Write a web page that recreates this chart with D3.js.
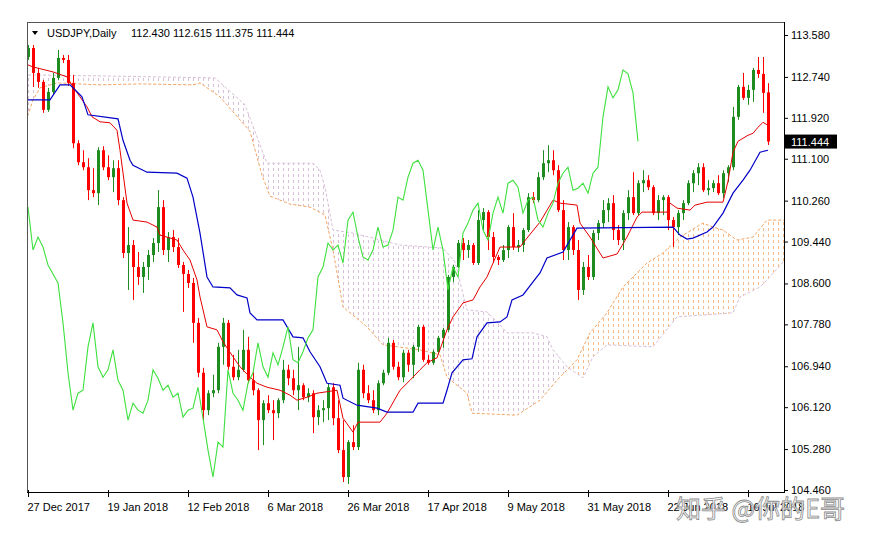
<!DOCTYPE html>
<html>
<head>
<meta charset="utf-8">
<script src="https://cdn.jsdelivr.net/npm/d3@7"></script>
<style>
	body { margin: 0; background: #fff; }
	text { font-family: Tahoma, "Liberation Sans", Arial, sans-serif; }
</style>
</head>
<body>
<div id="chart"></div>
<script>
// ---- data ----
let symbolTitle = 'USDJPY,Daily';
let lastOHLC = [112.430, 112.615, 111.375, 111.444];

let xTickIdx = [0, 16, 32, 48, 64, 80, 96, 112, 128, 144];
let xTickLabels = ['27 Dec 2017', '19 Jan 2018', '12 Feb 2018', '6 Mar 2018', '26 Mar 2018',
	'17 Apr 2018', '9 May 2018', '31 May 2018', '22 Jun 2018', '16 Jul 2018'];
let yTicks = [113.580, 112.740, 111.920, 111.100, 110.260, 109.440, 108.600, 107.780, 106.940, 106.120, 105.280, 104.460];

// daily candles, one entry per bar
let open = [113.14, 113.32, 112.82, 112.64, 112.08, 112.44, 112.72, 113.12, 113.08, 112.62,
	111.41, 111.03, 110.93, 110.47, 110.41, 111.27, 110.93, 110.73, 110.91, 110.27,
	109.21, 109.37, 108.93, 108.73, 108.93, 109.17, 109.41, 110.13, 109.27, 109.53,
	109.33, 108.97, 108.79, 108.61, 107.81, 106.81, 106.06, 106.40, 106.46, 107.33,
	107.81, 106.93, 106.72, 106.87, 107.27, 106.66, 106.46, 105.86, 106.20, 106.06,
	106.00, 106.26, 106.87, 106.70, 106.46, 106.56, 106.32, 106.40, 105.92, 106.06,
	106.10, 106.52, 105.90, 105.26, 104.72, 105.42, 105.32, 106.87, 106.40, 106.26,
	106.06, 106.60, 106.81, 107.41, 106.93, 106.72, 107.21, 106.97, 107.33, 107.73,
	107.07, 107.01, 107.23, 107.51, 107.67, 108.73, 108.93, 109.41, 109.27, 109.37,
	109.01, 109.87, 110.03, 109.53, 109.13, 109.07, 109.27, 109.73, 109.33, 109.37,
	109.67, 110.33, 110.27, 110.73, 111.01, 111.07, 110.87, 110.07, 109.27, 109.73,
	109.27, 108.47, 108.93, 108.73, 109.61, 109.81, 110.07, 110.21, 109.67, 109.47,
	110.01, 110.33, 110.01, 110.61, 110.67, 110.53, 110.01, 110.27, 110.33, 109.87,
	109.73, 110.01, 110.21, 110.61, 110.81, 110.93, 110.47, 110.51, 110.61, 110.41,
	110.81, 110.93, 111.94, 112.54, 112.32, 112.48, 112.88, 112.80, 112.430];
let high = [113.38, 113.38, 112.92, 112.68, 112.52, 112.82, 113.28, 113.18, 113.18, 112.78,
	111.47, 111.27, 111.11, 110.91, 111.33, 111.35, 111.17, 111.07, 111.07, 110.33,
	109.73, 109.47, 109.23, 109.03, 109.27, 109.51, 110.47, 110.27, 109.63, 109.67,
	109.51, 109.03, 108.87, 108.71, 107.91, 106.91, 106.46, 106.77, 107.41, 107.91,
	107.87, 107.17, 107.27, 107.67, 107.53, 106.83, 106.50, 106.26, 106.36, 106.26,
	106.30, 107.07, 106.97, 106.87, 107.33, 106.60, 106.50, 106.46, 106.16, 106.26,
	106.60, 106.60, 106.26, 105.86, 105.46, 105.76, 107.01, 106.97, 106.56, 106.46,
	106.66, 106.87, 107.51, 107.47, 107.03, 107.27, 107.27, 107.37, 107.77, 107.77,
	107.17, 107.27, 107.55, 107.71, 108.77, 108.97, 109.47, 109.51, 109.47, 109.41,
	110.07, 110.11, 110.07, 109.63, 109.17, 109.37, 109.77, 110.01, 109.47, 109.71,
	110.41, 110.43, 110.83, 111.27, 111.37, 111.27, 110.97, 110.27, 109.83, 109.77,
	109.47, 109.03, 109.17, 109.67, 109.87, 110.27, 110.31, 110.37, 109.77, 110.07,
	110.47, 110.83, 110.67, 110.87, 110.77, 110.57, 110.37, 110.37, 110.37, 109.93,
	110.07, 110.27, 110.67, 110.87, 111.01, 111.01, 110.67, 110.67, 110.77, 110.87,
	110.97, 112.14, 112.58, 112.82, 112.58, 112.92, 113.14, 113.14, 112.615];
let low = [113.08, 112.54, 112.52, 112.02, 112.04, 112.38, 112.68, 113.02, 112.56, 111.31,
	110.97, 110.87, 110.27, 110.33, 110.17, 110.87, 110.67, 110.43, 110.17, 109.11,
	108.47, 108.27, 108.57, 108.41, 108.67, 109.03, 109.23, 109.17, 109.03, 109.23,
	108.91, 108.03, 108.51, 107.41, 106.72, 105.86, 105.96, 106.32, 106.40, 106.97,
	106.87, 106.66, 106.66, 106.83, 106.60, 106.36, 105.26, 105.36, 106.00, 105.46,
	105.90, 106.20, 106.56, 106.36, 106.06, 106.26, 106.22, 105.60, 105.76, 105.82,
	105.86, 105.76, 105.20, 104.62, 104.58, 105.26, 105.26, 106.30, 106.20, 106.00,
	105.96, 106.56, 106.76, 106.87, 106.66, 106.62, 106.83, 106.70, 107.23, 107.03,
	106.97, 106.97, 107.21, 107.31, 107.63, 108.63, 108.91, 109.07, 109.11, 108.97,
	108.97, 109.67, 109.27, 109.01, 108.97, 109.03, 109.11, 109.27, 109.23, 109.23,
	109.63, 110.21, 110.23, 110.67, 110.83, 110.77, 110.03, 109.07, 109.07, 109.17,
	108.27, 108.37, 108.67, 108.67, 109.47, 109.71, 109.83, 109.47, 109.37, 109.27,
	109.87, 109.97, 109.97, 110.43, 110.47, 109.97, 109.87, 109.97, 109.67, 109.33,
	109.57, 109.87, 110.17, 110.43, 110.57, 110.43, 110.37, 110.43, 110.37, 110.31,
	110.63, 110.87, 111.88, 112.28, 112.18, 112.24, 112.72, 112.02, 111.375];
let close = [113.32, 112.82, 112.64, 112.08, 112.44, 112.72, 113.12, 113.08, 112.62, 111.41,
	111.03, 110.93, 110.47, 110.41, 111.27, 110.93, 110.73, 110.91, 110.27, 109.21,
	109.37, 108.93, 108.73, 108.93, 109.17, 109.41, 110.13, 109.27, 109.53, 109.33,
	108.97, 108.79, 108.61, 107.81, 106.81, 106.06, 106.40, 106.46, 107.33, 107.81,
	106.93, 106.72, 106.87, 107.27, 106.66, 106.46, 105.86, 106.20, 106.06, 106.00,
	106.26, 106.87, 106.70, 106.46, 106.56, 106.32, 106.40, 105.92, 106.06, 106.10,
	106.52, 105.90, 105.26, 104.72, 105.42, 105.32, 106.87, 106.40, 106.26, 106.06,
	106.60, 106.81, 107.41, 106.93, 106.72, 107.21, 106.97, 107.33, 107.73, 107.07,
	107.01, 107.23, 107.51, 107.67, 108.73, 108.93, 109.41, 109.27, 109.37, 109.01,
	109.87, 110.03, 109.53, 109.13, 109.07, 109.27, 109.73, 109.33, 109.37, 109.67,
	110.33, 110.27, 110.73, 111.01, 111.07, 110.87, 110.07, 109.27, 109.73, 109.27,
	108.47, 108.93, 108.73, 109.61, 109.81, 110.07, 110.21, 109.67, 109.47, 110.01,
	110.33, 110.01, 110.61, 110.67, 110.53, 110.01, 110.27, 110.33, 109.87, 109.73,
	110.01, 110.21, 110.61, 110.81, 110.93, 110.47, 110.51, 110.61, 110.41, 110.81,
	110.93, 111.94, 112.54, 112.32, 112.48, 112.88, 112.80, 112.42, 111.444];

// Ichimoku lines as [bar, price] break points
let tenkan = [[0, 112.98], [1, 112.94], [5, 112.84], [7.8, 112.74], [9, 112.54], [10.4, 112.34],
	[11.8, 112.14], [12.8, 111.94], [14.4, 111.84], [16.4, 111.82], [17.8, 111.67], [18.4, 111.27],
	[19.8, 110.21], [21, 109.87], [23.8, 109.83], [25.8, 109.73], [26.4, 109.57], [29.8, 109.47],
	[31, 109.27], [32.4, 109.07], [33.8, 108.67], [34.4, 108.33], [35.8, 107.73], [37.8, 107.67],
	[39, 107.43], [41, 107.13], [42.4, 106.93], [44.4, 106.72], [45.8, 106.60], [47.8, 106.52],
	[50.4, 106.46], [52.4, 106.36], [53.8, 106.26], [55.8, 106.32], [57.8, 106.40], [61.8, 106.46],
	[63, 105.90], [65, 105.62], [66, 105.82], [70.4, 105.82], [71.8, 106.00], [74.4, 106.46],
	[76.4, 106.66], [78.4, 106.87], [79.8, 107.01], [81.8, 107.11], [83.8, 107.67], [85, 107.93],
	[87, 108.21], [89, 108.27], [90.4, 108.53], [91.8, 108.73], [94.4, 109.33], [98.4, 109.33],
	[99.8, 109.51], [102.4, 109.83], [105, 110.27], [106.4, 110.21], [109.8, 110.17], [110.4, 109.81],
	[112.4, 109.53], [115, 109.11], [117.8, 109.19], [119.8, 109.53], [121.8, 109.93], [122.8, 110.03],
	[127.8, 110.03], [128.4, 110.21], [129.8, 110.11], [132.4, 110.07], [133.4, 110.17], [135.8, 110.23],
	[139, 110.23], [140, 110.65], [141, 111.23], [142, 111.45], [144, 111.57], [145, 111.61],
	[146, 111.73], [147, 111.83], [148, 111.77]];
let kijun = [[0, 112.28], [4.4, 112.28], [6, 112.52], [6.4, 112.58], [8.4, 112.58], [10.8, 112.34],
	[12, 111.98], [18, 111.90], [19, 111.47], [20.4, 111.07], [21, 110.97], [23.8, 110.83],
	[29.8, 110.81], [31.8, 110.71], [33, 110.33], [34.4, 109.61], [35.8, 108.73], [37, 108.53],
	[40.4, 108.51], [41.8, 108.37], [43.8, 108.31], [44.4, 108.01], [45.8, 107.87], [51, 107.87],
	[53, 107.53], [55, 107.51], [56.4, 107.23], [58.4, 106.93], [59.8, 106.60], [62.4, 106.56],
	[63, 106.30], [65.8, 106.16], [69.8, 106.10], [71.8, 106.02], [77, 106.02], [78, 106.20],
	[83, 106.20], [83.8, 106.46], [84.8, 106.81], [87, 107.07], [88.8, 107.09], [89.8, 107.53],
	[91.8, 107.81], [94.4, 107.83], [95.8, 107.93], [96.8, 108.27], [99, 108.37], [101, 108.63],
	[102.4, 108.81], [103.8, 109.11], [107, 109.23], [109.8, 109.71], [129, 109.73], [130.4, 109.57],
	[131.8, 109.49], [133, 109.51], [135.8, 109.63], [137, 109.73], [139, 110.01], [141, 110.41],
	[143, 110.67], [144.4, 110.87], [146.4, 111.23], [148, 111.27]];
let spanA = [[-1, 111.67], [1, 112.28], [2.4, 112.52], [5.8, 112.62], [14.4, 112.58], [22.4, 112.60],
	[33, 112.58], [34.4, 112.62], [38.4, 112.34], [44.4, 111.65], [46.8, 110.77], [48.4, 110.35],
	[52.4, 110.19], [56.4, 110.13], [59.4, 109.97], [61, 109.27], [63, 108.13], [67.8, 107.73],
	[71, 107.37], [78.4, 107.27], [82.4, 107.17], [83.8, 106.72], [87.8, 106.40], [88.8, 106.00],
	[97.8, 105.96], [102.4, 106.26], [105.8, 106.66], [109.8, 107.07], [112.4, 107.61], [115.8, 108.01],
	[119, 108.53], [123.8, 109.01], [127, 109.21], [130.4, 109.53], [135, 109.81], [137, 109.73],
	[139, 109.67], [141.8, 109.47], [145, 109.53], [147.8, 109.87], [151.4, 109.87]];
let spanB = [[-1, 112.78], [14.4, 112.76], [37.4, 112.72], [43.4, 112.18], [46.8, 111.27], [47.8, 111.01],
	[57, 111.01], [58.4, 110.87], [59.4, 110.53], [61, 109.67], [65, 109.61], [74.4, 109.37],
	[83, 109.31], [85.4, 109.03], [87.8, 108.07], [91.8, 108.03], [94.4, 107.77], [95.8, 107.61],
	[101, 107.61], [103.8, 107.53], [105, 107.27], [107.8, 106.93], [111, 106.71], [113, 107.13],
	[115.8, 107.37], [125, 107.33], [129.8, 107.93], [141, 108.01], [142.4, 108.33], [146.4, 108.53],
	[147.8, 108.67], [151.4, 109.07]];
let chikouShift = 26;

// ---- layout ----
let width = 877;
let height = 539;
let frame = { left: 27, right: 784, top: 22, bottom: 492 };

let bullColor = '#1e8c1e';
let bearColor = '#ff0000';
let sandy = '#f4a460';
let thistle = '#d8bfd8';

let svg = d3.select('#chart')
		.append('svg')
		.attr('width', width)
		.attr('height', height)
		.style('background', '#fff');

let xScale = d3.scaleLinear().domain([0, close.length - 1]).range([28, 768]);
let yScale = d3.scaleLinear().domain([104.46, 113.58]).range([490, 35]);

let defs = svg.append('defs');

defs.append('clipPath')
		.attr('id', 'plot-clip')
		.append('rect')
		.attr('x', frame.left)
		.attr('y', frame.top)
		.attr('width', frame.right - frame.left)
		.attr('height', frame.bottom - frame.top);

// dotted vertical hatch for the cloud, one column per bar
function makeHatch(id, color) {
	let p = defs.append('pattern')
			.attr('id', id)
			.attr('patternUnits', 'userSpaceOnUse')
			.attr('x', 28)
			.attr('y', 0)
			.attr('width', 5)
			.attr('height', 6);
	p.append('rect')
			.attr('x', 0)
			.attr('y', 0)
			.attr('width', 1)
			.attr('height', 3)
			.attr('fill', color);
}
makeHatch('hatch-a', sandy);
makeHatch('hatch-b', thistle);

let px = d => xScale(d[0]);
let py = d => yScale(d[1]);

// region above a line (towards the top of the plot) and below it
let areaAbove = d3.area().x(px).y0(frame.top).y1(py);
let areaBelow = d3.area().x(px).y0(frame.bottom).y1(py);

defs.append('clipPath').attr('id', 'above-b').append('path').attr('d', areaAbove(spanB));
defs.append('clipPath').attr('id', 'above-a').append('path').attr('d', areaAbove(spanA));

let plot = svg.append('g').attr('clip-path', 'url(#plot-clip)');

// cloud: A over B is sandy, B over A is thistle
plot.append('path')
		.attr('d', areaBelow(spanA))
		.attr('fill', 'url(#hatch-a)')
		.attr('opacity', 0.75)
		.attr('clip-path', 'url(#above-b)');
plot.append('path')
		.attr('d', areaBelow(spanB))
		.attr('fill', 'url(#hatch-b)')
		.attr('clip-path', 'url(#above-a)');

let line = d3.line().x(px).y(py);

plot.append('path')
		.attr('d', line(spanA))
		.attr('fill', 'none')
		.attr('stroke', sandy)
		.attr('stroke-dasharray', '3,2');
plot.append('path')
		.attr('d', line(spanB))
		.attr('fill', 'none')
		.attr('stroke', thistle)
		.attr('stroke-dasharray', '3,2');

// candles
let bars = d3.range(close.length);
let isBull = i => close[i] >= open[i];
let cx = i => Math.round(xScale(i));

plot.append('g')
		.selectAll('line')
		.data(bars)
		.join('line')
		.attr('x1', i => cx(i) + 0.5)
		.attr('x2', i => cx(i) + 0.5)
		.attr('y1', i => yScale(high[i]))
		.attr('y2', i => yScale(low[i]))
		.attr('stroke', i => isBull(i) ? bullColor : bearColor);

plot.append('g')
		.selectAll('rect')
		.data(bars)
		.join('rect')
		.attr('x', i => cx(i) - 1)
		.attr('width', 3)
		.attr('y', i => yScale(Math.max(open[i], close[i])))
		.attr('height', i => Math.max(1, Math.abs(yScale(open[i]) - yScale(close[i]))))
		.attr('fill', i => isBull(i) ? bullColor : bearColor);

// tenkan, kijun and chikou
plot.append('path')
		.attr('d', line(tenkan))
		.attr('fill', 'none')
		.attr('stroke', '#e60000')
		.attr('stroke-width', 1);
plot.append('path')
		.attr('d', line(kijun))
		.attr('fill', 'none')
		.attr('stroke', '#0000c8')
		.attr('stroke-width', 1.2);

let chikou = bars.filter(i => i >= chikouShift).map(i => [i - chikouShift, close[i]]);
plot.append('path')
		.attr('d', line(chikou))
		.attr('fill', 'none')
		.attr('stroke', '#3ee03e')
		.attr('stroke-width', 1.1);

// frame
svg.append('line').attr('x1', frame.left).attr('x2', frame.right).attr('y1', frame.top + 0.5).attr('y2', frame.top + 0.5)
		.attr('stroke', '#555');
svg.append('line').attr('x1', frame.left + 0.5).attr('x2', frame.left + 0.5).attr('y1', frame.top).attr('y2', frame.bottom)
		.attr('stroke', '#555');

// price axis on the right
let yAxis = svg.append('g')
		.attr('transform', `translate(${frame.right}, 0)`)
		.call(d3.axisRight(yScale).tickValues(yTicks).tickFormat(d3.format('.3f')).tickSize(4).tickPadding(3));
yAxis.select('.domain').remove();
yAxis.selectAll('text').style('font-size', '11px').attr('fill', '#000');
svg.append('line').attr('x1', frame.right + 0.5).attr('x2', frame.right + 0.5).attr('y1', frame.top).attr('y2', frame.bottom + 1)
		.attr('stroke', '#000');

// date axis at the bottom
let xAxis = svg.append('g')
		.attr('transform', `translate(0, ${frame.bottom})`)
		.call(d3.axisBottom(xScale).tickValues(xTickIdx).tickFormat((d, i) => xTickLabels[i]).tickSize(5).tickPadding(6));
xAxis.select('.domain').remove();
xAxis.selectAll('.tick line').attr('y1', -2);
xAxis.selectAll('text')
		.attr('text-anchor', 'start')
		.attr('x', -1)
		.style('font-size', '11px')
		.attr('fill', '#000');
svg.append('line').attr('x1', frame.left).attr('x2', frame.right + 1).attr('y1', frame.bottom + 0.5).attr('y2', frame.bottom + 0.5)
		.attr('stroke', '#000');

// last price tag
let lastY = yScale(lastOHLC[3]);
svg.append('rect')
		.attr('x', 785)
		.attr('y', lastY - 7)
		.attr('width', 52)
		.attr('height', 14)
		.attr('fill', '#000');
svg.append('text')
		.attr('x', 791)
		.attr('y', lastY + 4)
		.attr('fill', '#fff')
		.style('font-size', '11px')
		.text(d3.format('.3f')(lastOHLC[3]));

// title row
svg.append('path')
		.attr('d', 'M32,31 L38,31 L35,35 Z')
		.attr('fill', '#000');
svg.append('text')
		.attr('x', 47)
		.attr('y', 37)
		.style('font-size', '11px')
		.text(symbolTitle);
svg.append('text')
		.attr('x', 131)
		.attr('y', 37)
		.style('font-size', '11px')
		.text(lastOHLC.map(d3.format('.3f')).join(' '));

// watermark
svg.append('text')
		.attr('x', 676)
		.attr('y', 518)
		.style('font-family', '"Noto Sans CJK SC", sans-serif')
		.style('font-size', '25px')
		.attr('fill', '#fff')
		.attr('fill-opacity', 0.85)
		.attr('stroke', '#8c8c8c')
		.attr('stroke-width', 0.8)
		.text('知乎 @你的E哥');
</script>
</body>
</html>
